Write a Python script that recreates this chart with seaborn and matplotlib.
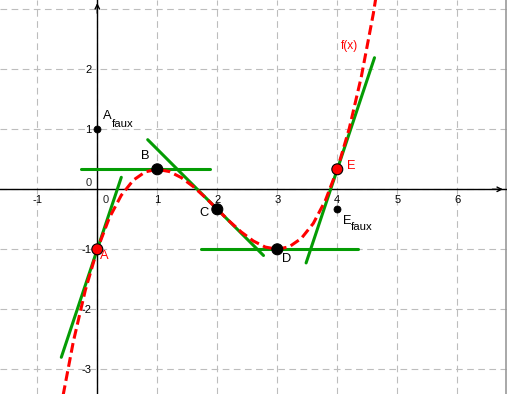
import numpy as np
import pandas as pd
import matplotlib
matplotlib.use("Agg")
import matplotlib.pyplot as plt
import seaborn as sns

# ---- data ----
curve_x = [-0.6, -0.4, -0.2, 0.0, 0.2, 0.4, 0.6, 0.8, 1.0, 1.2, 1.4, 1.6, 1.8, 2.0,
           2.2, 2.4, 2.6, 2.8, 3.0, 3.2, 3.4, 3.6, 3.8, 4.0, 4.2, 4.4, 4.6, 4.8]
curve_y = [-3.592, -2.541, -1.683, -1.0, -0.477, -0.099, 0.152, 0.291, 0.333, 0.296,
           0.195, 0.045, -0.136, -0.333, -0.531, -0.712, -0.861, -0.963, -1.0, -0.957,
           -0.819, -0.568, -0.189, 0.333, 1.016, 1.875, 2.925, 4.184]

seg_names = ["A", "B", "C", "D", "E"]
seg_x0 = [-0.60, -0.28, 0.84, 1.72, 3.48]
seg_y0 = [-2.80, 0.333, 0.827, -1.0, -1.227]
seg_x1 = [0.40, 1.87, 2.77, 4.35, 4.62]
seg_y1 = [0.20, 0.333, -1.103, -1.0, 2.193]

pt_names = ["A", "B", "C", "D", "E"]
pt_x = [0, 1, 2, 3, 4]
pt_y = [-1, 1 / 3, -1 / 3, -1, 1 / 3]
pt_colors = ["#ff0000", "#000000", "#000000", "#000000", "#ff0000"]

faux_names = ["A", "E"]
faux_x = [0, 4]
faux_y = [1, -1 / 3]

xticks = [-1, 0, 1, 2, 3, 4, 5, 6]
xtick_labels = ["-1", "", "1", "2", "3", "4", "5", "6"]
yticks = [-3, -2, -1, 0, 1, 2, 3]
ytick_labels = ["-3", "-2", "-1", "", "1", "2", ""]

# ---- style ----
sns.set_style("white")
plt.rcParams["font.family"] = ["Liberation Sans", "DejaVu Sans"]
plt.rcParams["axes.unicode_minus"] = False

fig = plt.figure(figsize=(5.07, 3.94), dpi=100)
ax = fig.add_axes([0, 0, 1, 1])

px = 60.0  # pixels per unit
ax.set_xlim(-97.3 / px, (507 - 97.3) / px)
ax.set_ylim(-(394 - 189.3) / px, 189.3 / px)

ax.set_xticks(xticks, labels=xtick_labels)
ax.set_yticks(yticks, labels=ytick_labels)
ax.grid(True, color="#bdbdbd", linestyle=(0, (6, 4)), linewidth=0.8, zorder=0)
ax.set_axisbelow(True)

for s in ["top", "right"]:
    ax.spines[s].set_visible(False)
ax.spines["left"].set_position(("data", 0))
ax.spines["bottom"].set_position(("data", 0))
for s in ["left", "bottom"]:
    ax.spines[s].set_color("black")
    ax.spines[s].set_linewidth(1.0)
    ax.spines[s].set_zorder(1.5)
ax.tick_params(axis="both", direction="out", length=2.6, width=0.8, color="black",
               labelsize=8, pad=1.5, labelcolor="black")
ax.set_xlabel("")
ax.set_ylabel("")

# arrows at axis ends
ax.annotate("", xy=(405.7 / px, 0), xytext=(395 / px, 0),
            arrowprops=dict(arrowstyle="->", color="black", lw=1.0,
                            mutation_scale=8, shrinkA=0, shrinkB=0))
ax.annotate("", xy=(0, 186.3 / px), xytext=(0, 176 / px),
            arrowprops=dict(arrowstyle="->", color="black", lw=1.0,
                            mutation_scale=8, shrinkA=0, shrinkB=0))
# right frame line
ax.axvline(408.7 / px, color="#9a9a9a", lw=1.2, zorder=1)

# origin labels
ax.text(-9 / px, 6 / px, "0", fontsize=8, ha="center", va="center")
ax.text(8.4 / px, -10.7 / px, "0", fontsize=8, ha="center", va="center")

# tangent segments
green = "#049c04"
for i in range(len(seg_names)):
    df = pd.DataFrame({"x": [seg_x0[i], seg_x1[i]], "y": [seg_y0[i], seg_y1[i]]})
    sns.lineplot(data=df, x="x", y="y", ax=ax, color=green, lw=2.2,
                 sort=False, estimator=None, zorder=3)

# function curve
sns.lineplot(x=curve_x, y=curve_y, ax=ax, color="#ff0000", lw=2.2,
             linestyle=(0, (3.2, 1.5)), sort=False, estimator=None, zorder=4)

# points
sns.scatterplot(x=pt_x, y=pt_y, ax=ax, color=pt_colors, s=62, edgecolor="black",
                linewidth=0.8, zorder=6, legend=False)
sns.scatterplot(x=faux_x, y=faux_y, ax=ax, color="black", s=26, edgecolor="black",
                linewidth=0.5, zorder=6, legend=False)
ax.set_xlabel("")
ax.set_ylabel("")

# point labels (pixel offsets converted to points)
k = 0.72
label_off = {"A": (7, -6.4), "B": (-11.6, 13.6), "C": (-13, -3.7),
             "D": (9.4, -9.7), "E": (14.4, 3.6)}
for name, x, y, c in zip(pt_names, pt_x, pt_y, pt_colors):
    dx, dy = label_off[name]
    ax.annotate(name, (x, y), xytext=(dx * k, dy * k), textcoords="offset points",
                ha="center", va="center", fontsize=9.3, color=c, zorder=7)

faux_off = {"A": ((10, 13.5), (25.5, 5.5)), "E": ((10, -11.4), (24.5, -17.5))}
for name, x, y in zip(faux_names, faux_x, faux_y):
    (dx1, dy1), (dx2, dy2) = faux_off[name]
    ax.annotate(name, (x, y), xytext=(dx1 * k, dy1 * k), textcoords="offset points",
                ha="center", va="center", fontsize=9.3, color="black", zorder=7)
    ax.annotate("faux", (x, y), xytext=(dx2 * k, dy2 * k), textcoords="offset points",
                ha="center", va="center", fontsize=8.2, color="black", zorder=7)

ax.text(4.2, 2.39, "f(x)", color="#ff0000", fontsize=8.6, ha="center", va="center")

fig.savefig("out.png", dpi=100)
